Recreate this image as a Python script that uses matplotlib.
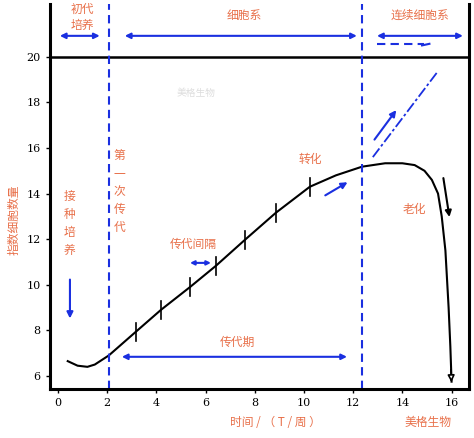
import matplotlib
matplotlib.use("Agg")
import matplotlib.pyplot as plt

plt.rcParams['font.family'] = ['Noto Sans CJK SC', 'DejaVu Sans']
OR = '#e8704a'
BL = '#1a2fe0'

curve_x = [0.4, 0.8, 1.2, 1.5, 2.07, 3.17, 4.19, 5.37, 6.42, 7.6, 8.86, 10.24, 11.3, 12.36, 13.3, 14.0, 14.5, 14.9, 15.2, 15.45, 15.6, 15.75, 15.88, 15.95, 16.0]
curve_y = [6.65, 6.45, 6.4, 6.5, 6.9, 7.94, 8.9, 9.9, 10.83, 11.97, 13.16, 14.3, 14.8, 15.18, 15.33, 15.33, 15.25, 15.0, 14.6, 14.0, 13.0, 11.5, 9.0, 7.3, 5.75]
tick_x = [3.17, 4.19, 5.37, 6.42, 7.6, 8.86, 10.24]
tick_y = [7.94, 8.9, 9.9, 10.83, 11.97, 13.16, 14.3]
xticks = [0, 2, 4, 6, 8, 10, 12, 14, 16]
yticks = [6, 8, 10, 12, 14, 16, 18, 20]

fig = plt.figure(figsize=(4.74, 4.38), dpi=100)
ax = fig.add_axes([0.105, 0.112, 0.884, 0.878])
ax.set_xlim(-0.33, 16.7)
ax.set_ylim(5.43, 22.3)
for s in ['left', 'right', 'bottom']:
    ax.spines[s].set_linewidth(2.2)
ax.spines['top'].set_visible(False)
ax.set_xticks(xticks)
ax.set_yticks(yticks)
ax.tick_params(labelsize=8, width=1, length=3)
for lab in ax.get_xticklabels() + ax.get_yticklabels():
    lab.set_family('DejaVu Serif')
ax.axhline(20, color='black', lw=1.8)

ax.plot(curve_x, curve_y, color='black', lw=1.5)
ax.annotate('', xy=(16.0, 5.6), xytext=(15.97, 6.4),
            arrowprops=dict(arrowstyle='-|>', color='black', lw=1.2, fc='white'))
for tx, ty in zip(tick_x, tick_y):
    ax.plot([tx, tx], [ty - 0.4, ty + 0.4], color='black', lw=1.2)

for vx in [2.07, 12.36]:
    ax.axvline(vx, color=BL, lw=1.5, ls=(0, (4, 2.5)))

def darrow(x1, x2, y, ms=8):
    ax.annotate('', xy=(x2, y), xytext=(x1, y),
                arrowprops=dict(arrowstyle='<|-|>', color=BL, lw=1.5, mutation_scale=ms,
                                shrinkA=0, shrinkB=0))

def arrow(x1, y1, x2, y2, color=BL):
    ax.annotate('', xy=(x2, y2), xytext=(x1, y1),
                arrowprops=dict(arrowstyle='-|>', color=color, lw=1.5, mutation_scale=9))

darrow(0.08, 1.7, 20.92)
darrow(2.72, 12.15, 20.92)
darrow(12.97, 16.46, 20.92)
ax.plot([12.97, 14.9], [20.57, 20.57], color=BL, lw=1.5, ls=(0, (4, 2.5)))
ax.plot([14.8, 15.1], [20.5, 20.57], color=BL, lw=1.5)
darrow(5.37, 6.22, 10.96, ms=6)
darrow(2.6, 11.75, 6.84)
arrow(0.49, 10.35, 0.49, 8.4)
arrow(10.77, 13.86, 11.87, 14.56)
arrow(12.8, 16.27, 13.82, 17.76)
ax.plot([12.8, 15.4], [15.6, 19.3], color=BL, lw=1.3, ls=(0, (6, 1.5, 1.5, 1.5)))
arrow(15.65, 14.8, 15.93, 12.85, color='black')

tk = dict(color=OR, fontsize=8.5, ha='center', va='center')
ax.text(1.0, 21.72, '初代\n培养', linespacing=1.3, **tk)
ax.text(7.56, 21.8, '细胞系', **tk)
ax.text(14.7, 21.8, '连续细胞系', **tk)
ax.text(0.49, 12.7, '接\n种\n培\n养', linespacing=1.5, **tk)
ax.text(2.5, 14.1, '第\n一\n次\n传\n代', linespacing=1.5, **tk)
ax.text(5.5, 11.75, '传代间隔', **tk)
ax.text(7.28, 7.46, '传代期', **tk)
ax.text(10.24, 15.5, '转化', **tk)
ax.text(14.5, 13.3, '老化', **tk)
ax.text(5.6, 18.4, '美格生物', color='#dddddd', fontsize=7, ha='center', va='center')

fig.text(14 / 474, 1 - 220 / 438, '指数细胞数量', color=OR, fontsize=8.5, rotation=90, ha='center', va='center')
fig.text(275 / 474, 1 - 422 / 438, '时间 / （ T / 周 ）', color=OR, fontsize=8.5, ha='center', va='center')
fig.text(428 / 474, 1 - 422 / 438, '美格生物', color=OR, fontsize=8.5, ha='center', va='center')

fig.savefig('out.png', dpi=100)
